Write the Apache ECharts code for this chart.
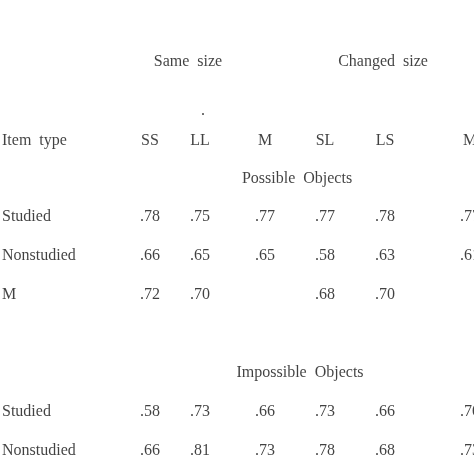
<!DOCTYPE html>
<html><head><meta charset="utf-8">
<script src="https://cdn.jsdelivr.net/npm/echarts@6/dist/echarts.min.js"></script>
<style>html,body{margin:0;padding:0;background:#fff}#c{width:474px;height:474px}</style>
</head><body><div id="c"></div>
<script>
const columns = ['SS','LL','M','SL','LS','M'];
const rowLabels = ['Studied','Nonstudied','M','Studied','Nonstudied'];
const possibleStudied = ['.78','.75','.77','.77','.78','.77'];
const possibleNonstudied = ['.66','.65','.65','.58','.63','.61'];
const possibleM = ['.72','.70','','.68','.70',''];
const impossibleStudied = ['.58','.73','.66','.73','.66','.70'];
const impossibleNonstudied = ['.66','.81','.73','.78','.68','.73'];

// layout constants (pixel positions)
const colX = [150,200,265,325,385,470];
const rowY = [217,256,295,412,451];
const headerY = 141;
const valueRows = [possibleStudied, possibleNonstudied, possibleM, impossibleStudied, impossibleNonstudied];

const pts = [];
columns.forEach((c,i)=>pts.push({value:[colX[i],headerY],name:c}));
valueRows.forEach((r,ri)=>r.forEach((v,ci)=>{ if(v) pts.push({value:[colX[ci],rowY[ri]],name:v}); }));
const left = [{value:[2,headerY],name:'Item  type'}];
rowLabels.forEach((l,i)=>left.push({value:[2,rowY[i]],name:l}));
const titles = [
 {value:[188,62],name:'Same  size'},
 {value:[383,62],name:'Changed  size'},
 {value:[297,179],name:'Possible  Objects'},
 {value:[300,373],name:'Impossible  Objects'},
 {value:[203,111],name:'.'}
];
const font = {fontFamily:'Liberation Serif', fontSize:16, color:'#111'};
const chart = echarts.init(document.getElementById('c'));
chart.setOption({
 animation:false,
 grid:{left:0,right:0,top:0,bottom:0},
 xAxis:{type:'value',min:0,max:474,show:false},
 yAxis:{type:'value',min:0,max:474,inverse:true,show:false},
 series:[
  {type:'scatter',symbolSize:0,data:pts,label:{show:true,position:'inside',formatter:p=>p.name,...font}},
  {type:'scatter',symbolSize:0,data:left,label:{show:true,position:'inside',align:'left',formatter:p=>p.name,...font}},
  {type:'scatter',symbolSize:0,data:titles,label:{show:true,position:'inside',formatter:p=>p.name,...font}}
 ]
});
</script></body></html>
